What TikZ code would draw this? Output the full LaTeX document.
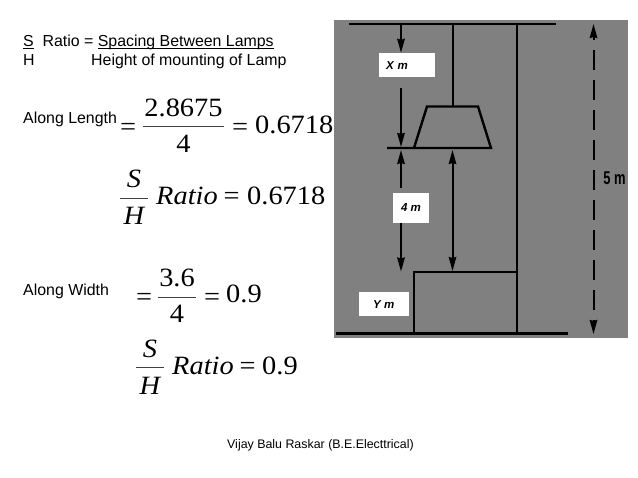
\documentclass[tikz,border=0pt]{standalone}
\usepackage{fontspec}
\setmainfont{Liberation Sans}
\newfontfamily\eqfont{Liberation Serif}
\usetikzlibrary{arrows.meta,positioning}

\tikzset{
  txt/.style={anchor=base west, inner sep=0pt, font=\fontsize{15.9}{18}\selectfont},
  eq/.style={anchor=base west, inner sep=0pt, yscale=0.93, font=\eqfont\fontsize{28.4}{32}\selectfont},
  eqi/.style={eq, font=\eqfont\itshape\fontsize{28.4}{32}\selectfont},
  eqc/.style={eq, anchor=base},
  eqci/.style={eqi, anchor=base},
  tag/.style={fill=white, inner sep=0pt, font=\bfseries\itshape\fontsize{11.5}{13}\selectfont},
  wire/.style={line width=2pt},
  heavy/.style={line width=2.4pt},
  dim/.style={line width=2pt, -{Stealth[length=14pt,width=7.5pt,inset=1pt]}},
  dimboth/.style={line width=2pt, {Stealth[length=14pt,width=7.5pt,inset=1pt]}-{Stealth[length=14pt,width=7.5pt,inset=1pt]}},
  fracbar/.style={line width=0.9pt, black!75}
}

\begin{document}
\begin{tikzpicture}[x=1pt,y=-1pt]
  \useasboundingbox (0,0) rectangle (638,478);

  % Panel
  \fill[black!50] (334,20.5) rectangle (627.5,338);

  % Lines
  \coordinate (top-l) at (349,24);
  \coordinate (top-r) at (556,24);
  \coordinate (stem) at (452.5,24);
  \coordinate (post) at (516.5,24);
  \coordinate (x-top) at (401,24);
  \coordinate (lamp-l) at (387,148);
  \coordinate (lamp-r) at (491,148);
  \coordinate (lamp-a) at (414,148);
  \coordinate (lamp-b) at (427,106.5);
  \coordinate (lamp-c) at (478,106.5);
  \coordinate (gnd-l) at (336,334);
  \coordinate (gnd-r) at (568,334);
  \coordinate (box-l) at (414,272);
  \coordinate (box-r) at (516.5,272);
  \coordinate (span-t) at (593.5,24);
  \coordinate (span-b) at (593.5,334);

  % Labels
  \node[tag, minimum width=55.5pt, minimum height=24.5pt, align=left, text width=41.5pt] (xm) at (406.75,65.25) {X m};
  \node[tag, minimum width=36pt, minimum height=30pt] (fm) at (411,208) {4 m};
  \node[tag, minimum width=49.5pt, minimum height=24pt] (ym) at (383.75,304.5) {Y m};
  \node[anchor=base, inner sep=0pt, font=\bfseries\fontsize{18.5}{20}\selectfont, xscale=0.7] (fivem) at (614.5,185) {5 m};

  \draw[line width=1.5pt] (top-l) -- (top-r);
  \draw[wire] (stem) -- (stem |- lamp-b);
  \draw[wire] (post) -- (post |- gnd-l);
  \draw[heavy] (lamp-l) -- (lamp-r) -- (lamp-c) -- (lamp-b) -- (lamp-a);
  \draw[wire] (gnd-l -| box-l) -- (box-l) -- (box-r);
  \draw[line width=3pt] (gnd-l) -- (gnd-r);

  % Arrows
  \coordinate (x-a) at (401,88);
  \coordinate (x-b) at (401,147);
  \coordinate (f-a) at (401,150);
  \coordinate (f-b) at (401,188);
  \coordinate (f-c) at (401,223);
  \coordinate (f-d) at (401,271.5);
  \coordinate (h-a) at (452.5,150);
  \coordinate (h-b) at (452.5,271);
  \draw[dim] (x-top) -- (x-top |- xm.north);
  \draw[dim] (x-a) -- (x-b);
  \draw[dim] (f-b) -- (f-a);
  \draw[dim] (f-c) -- (f-d);
  \draw[dimboth] (h-a) -- (h-b);
  \draw[dimboth, dash pattern=on 20pt off 10pt, dash phase=16pt] (span-t) -- (span-b);

  % Heading
  \node[txt] (ratio) at (23,47) {\underline{S}\hspace{8.8pt}Ratio = \underline{\smash{Spacing Between Lamps}}};
  \node[txt] (h) at (23,66) {H};
  \node[txt] (height) at (91,66) {Height of mounting of Lamp};

  % Along length
  \node[txt] (length) at (23,124) {Along Length};
  \node[eq] (l-eq1) at (120,136) {=};
  \node[eqc] (l-num) at (183.5,117) {2.8675};
  \node[eqc] (l-den) at (183.5,153) {4};
  \node[eq] (l-eq2) at (232,136) {=};
  \node[eq] (l-val) at (255,134) {0.6718};
  \draw[fracbar] (143,126.7) -- (224,126.7);

  \node[eqci] (l-s) at (134,188) {S};
  \node[eqci] (l-h) at (134,225) {H};
  \node[eqi] (l-ratio) at (156,205) {Ratio};
  \node[eq] (l-eq3) at (223.5,205) {=};
  \node[eq] (l-res) at (247,205) {0.6718};
  \draw[fracbar] (120,198) -- (148,198);

  % Along width
  \node[txt] (width) at (23,296) {Along Width};
  \node[eq] (w-eq1) at (136,306) {=};
  \node[eqc] (w-num) at (177,287) {3.6};
  \node[eqc] (w-den) at (177,323) {4};
  \node[eq] (w-eq2) at (204,306) {=};
  \node[eq] (w-val) at (226,303) {0.9};
  \draw[fracbar] (158,297) -- (196,297);

  \node[eqci] (w-s) at (150,358) {S};
  \node[eqci] (w-h) at (150,395) {H};
  \node[eqi] (w-ratio) at (172,375) {Ratio};
  \node[eq] (w-eq3) at (239.5,375) {=};
  \node[eq] (w-res) at (262,375) {0.9};
  \draw[fracbar] (136,367) -- (164,367);

  % Footer
  \node[txt, font=\fontsize{12.4}{15}\selectfont] (footer) at (227,449) {Vijay Balu Raskar (B.E.Electtrical)};
\end{tikzpicture}
\end{document}
